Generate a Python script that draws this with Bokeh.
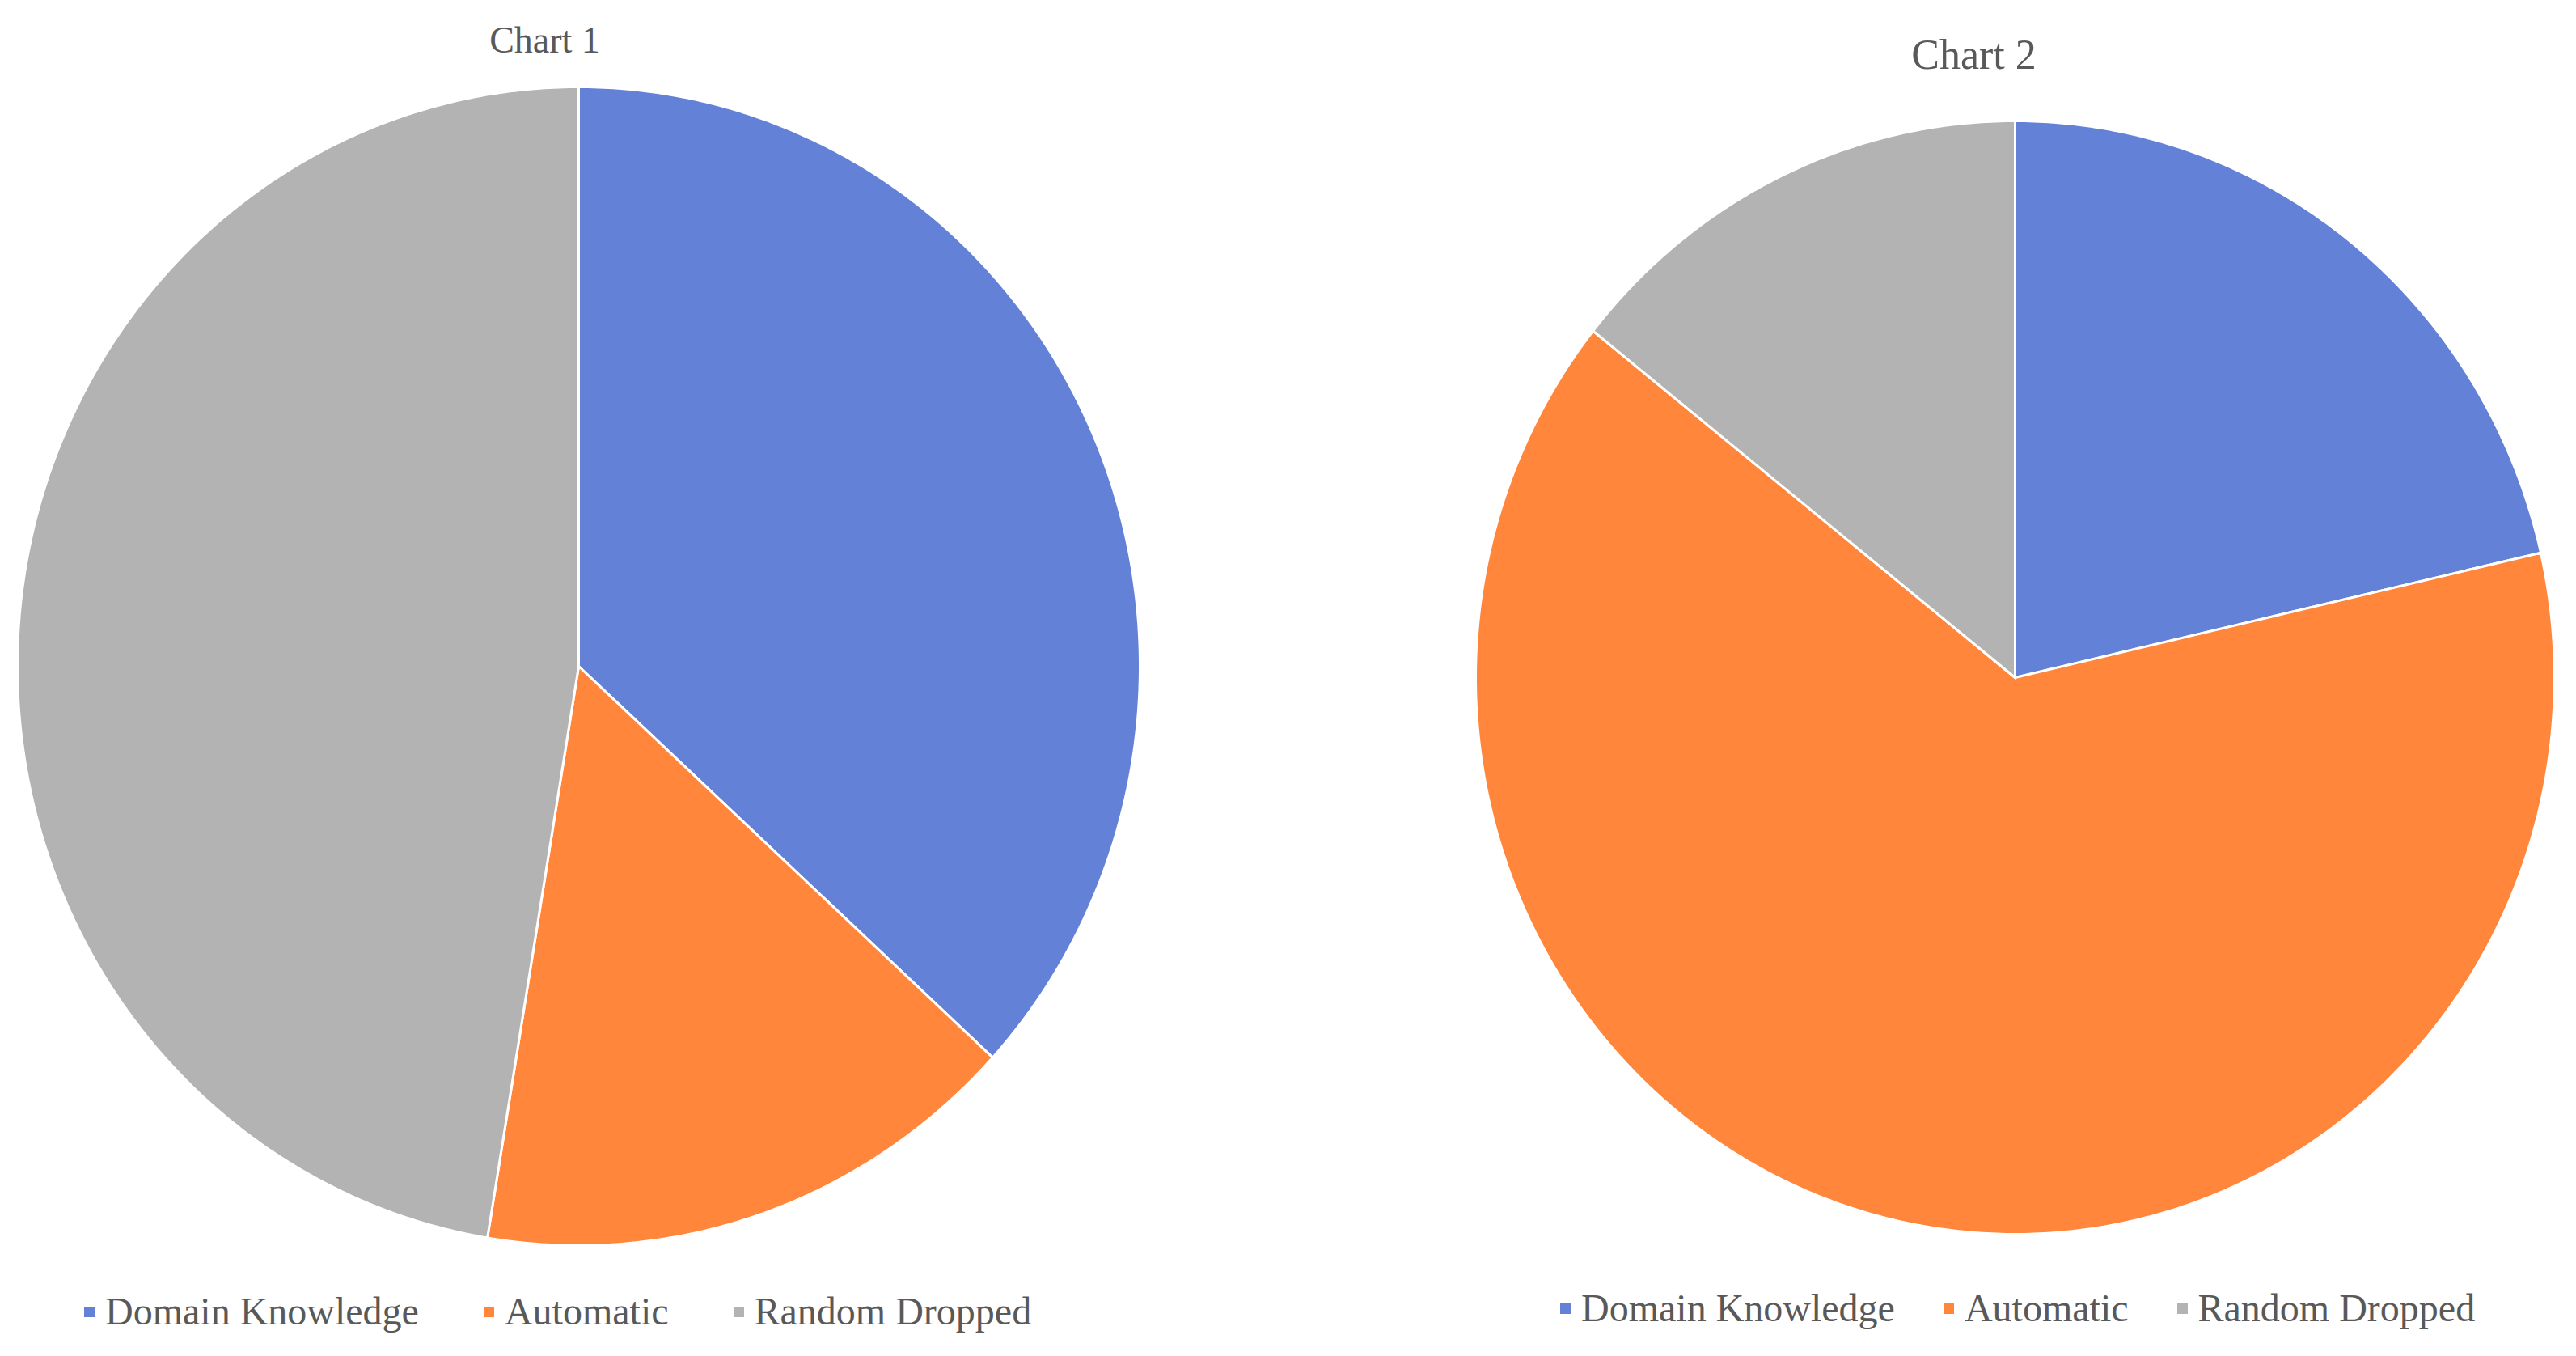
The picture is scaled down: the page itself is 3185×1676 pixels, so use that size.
import numpy as np
from bokeh.plotting import figure
from bokeh.models import Range1d, ColumnDataSource, Legend, LegendItem
from bokeh.core.properties import value
from bokeh.embed import file_html
from bokeh.resources import INLINE

categories = ["Domain Knowledge", "Automatic", "Random Dropped"]
chart1_values = [36.8, 15.8, 47.4]
chart2_values = [21.4, 64.3, 14.3]
titles = ["Chart 1", "Chart 2"]
colors = ["#6381D7", "#FF863A", "#B3B3B3"]

W, H = 3169, 1660
p = figure(width=W, height=H, output_backend="svg", toolbar_location=None,
           x_range=Range1d(0, W), y_range=Range1d(0, H), min_border=0)
p.axis.visible = False
p.grid.visible = False
p.outline_line_color = None
p.background_fill_color = "white"
p.border_fill_color = "white"

def slice_source(vals, cx, cy, rx, ry):
    # slightly elliptical pie (as in the reference), clockwise from 12 o'clock
    total = float(sum(vals))
    xs, ys = [], []
    cum = 0.0
    for v in vals:
        a0 = cum / total * 2 * np.pi
        cum += v
        a1 = cum / total * 2 * np.pi
        n = max(int((a1 - a0) / (2 * np.pi) * 720), 8)
        t = np.linspace(a0, a1, n)
        xs.append(np.concatenate([[cx], cx + rx * np.sin(t), [cx]]))
        ys.append(np.concatenate([[cy], cy + ry * np.cos(t), [cy]]))
    return ColumnDataSource(dict(xs=xs, ys=ys, color=colors, label=categories))

pies = [
    dict(vals=chart1_values, cx=715, cy=H - 823, rx=694, ry=716, tx=673, ty=1611,
         fs="46px", lx=100, ly=12, spacing=76),
    dict(vals=chart2_values, cx=2491, cy=H - 837, rx=667, ry=688, tx=2440, ty=1593,
         fs="52px", lx=1925, ly=16, spacing=56),
]

for i, cfg in enumerate(pies):
    src = slice_source(cfg["vals"], cfg["cx"], cfg["cy"], cfg["rx"], cfg["ry"])
    r = p.patches(xs="xs", ys="ys", fill_color="color", line_color="white",
                  line_width=3, line_join="miter", source=src)
    p.text(x=[cfg["tx"]], y=[cfg["ty"]], text=[titles[i]], text_align="center",
           text_baseline="alphabetic", text_font=value("Liberation Serif"),
           text_font_size=cfg["fs"], text_color="#595959")
    items = [LegendItem(label=categories[k], renderers=[r], index=k) for k in range(3)]
    leg = Legend(items=items, orientation="horizontal", location=(cfg["lx"], cfg["ly"]),
                 label_text_font="Liberation Serif", label_text_font_size="48px",
                 label_text_color="#595959", glyph_width=20, glyph_height=20,
                 label_standoff=10, spacing=cfg["spacing"], padding=0, margin=0,
                 border_line_color=None, background_fill_alpha=0)
    p.add_layout(leg, "center")

open("out.html", "w").write(file_html(p, INLINE))
